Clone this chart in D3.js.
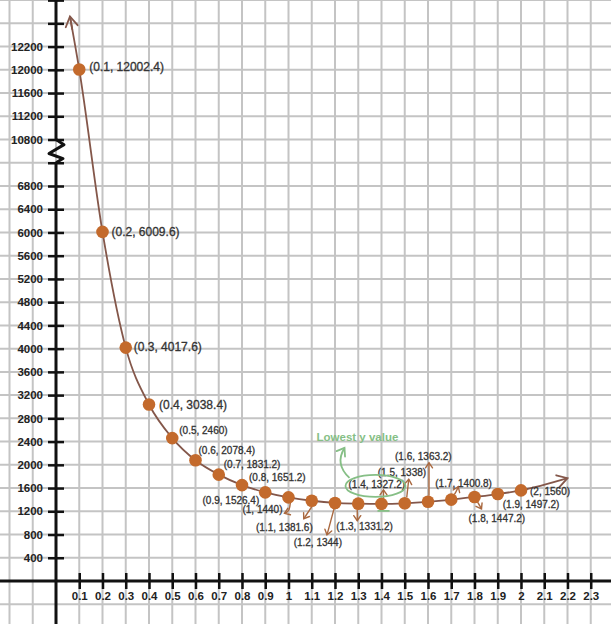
<!DOCTYPE html>
<html>
<head>
<meta charset="utf-8">
<script src="https://cdn.jsdelivr.net/npm/d3@7"></script>
<style>
  html, body { margin: 0; padding: 0; background: #fff; }
  svg { display: block; font-family: "Liberation Sans", Arial, sans-serif; }
</style>
</head>
<body>
<svg id="chart" width="611" height="624"></svg>
<script>
// ---------- data ----------
const xValues = [0.1, 0.2, 0.3, 0.4, 0.5, 0.6, 0.7, 0.8, 0.9, 1, 1.1, 1.2, 1.3, 1.4, 1.5, 1.6, 1.7, 1.8, 1.9, 2];
const yValues = [12002.4, 6009.6, 4017.6, 3038.4, 2460, 2078.4, 1831.2, 1651.2, 1526.4, 1440, 1381.6, 1344, 1331.2, 1327.2, 1338, 1363.2, 1400.8, 1447.2, 1497.2, 1560];
const curveStartTip = [0.06, 12460];
const curveEndTip = [2.2, 1770];
const xTickValues = [0.1, 0.2, 0.3, 0.4, 0.5, 0.6, 0.7, 0.8, 0.9, 1, 1.1, 1.2, 1.3, 1.4, 1.5, 1.6, 1.7, 1.8, 1.9, 2, 2.1, 2.2, 2.3];
const xTickLabels = ["0.1", "0.2", "0.3", "0.4", "0.5", "0.6", "0.7", "0.8", "0.9", "1", "1.1", "1.2", "1.3", "1.4", "1.5", "1.6", "1.7", "1.8", "1.9", "2", "2.1", "2.2", "2.3"];
const yTickValues = [400, 800, 1200, 1600, 2000, 2400, 2800, 3200, 3600, 4000, 4400, 4800, 5200, 5600, 6000, 6400, 6800, 8800, 10800, 11200, 11600, 12000, 12200, 12400, 12600];
const yTickLabels = ["400", "800", "1200", "1600", "2000", "2400", "2800", "3200", "3600", "4000", "4400", "4800", "5200", "5600", "6000", "6400", "6800", "", "10800", "11200", "11600", "12000", "12200", "", ""];
const minIndex = 13;
const noteText = "Lowest y value";

// ---------- layout / styles ----------
const W = 611, H = 624;
const X0 = 56, Y0 = 581;
const STEP = 395 / 17;
const svg = d3.select("#chart");

const x = d3.scaleLinear().domain([0, 2.3]).range([X0, X0 + 23 * 23.25]);
const y = d3.scaleLinear()
  .domain([0, 6800, 10800, 12000, 12200])
  .range([Y0, Y0 - 17 * STEP, Y0 - 19 * STEP, Y0 - 22 * STEP, Y0 - 23 * STEP]);
const gridY = d3.scaleLinear().domain([0, 6800]).range([Y0, Y0 - 17 * STEP]);

const GRID = "#c4c4c4";
const LINE = "#84574a";
const DOT = "#c36a2c";
const LEAD = "#a9683f";
const GREEN = "#86bf86";
const TEXT = "#333";

// grid
const gx = d3.range(-3, 25).map(i => i / 10);
const gy = d3.range(-3, 30).map(i => i * 400);
svg.append("g").selectAll("line").data(gx).join("line")
  .attr("x1", d => x(d)).attr("x2", d => x(d)).attr("y1", 0).attr("y2", H)
  .attr("stroke", GRID).attr("stroke-width", 2);
svg.append("g").selectAll("line").data(gy).join("line")
  .attr("y1", d => gridY(d)).attr("y2", d => gridY(d)).attr("x1", 0).attr("x2", W)
  .attr("stroke", GRID).attr("stroke-width", 2);

// markers
const defs = svg.append("defs");
defs.append("marker").attr("id", "bigArrow")
  .attr("viewBox", "-12 -8 14 16").attr("markerWidth", 14).attr("markerHeight", 16)
  .attr("markerUnits", "userSpaceOnUse").attr("refX", 0).attr("refY", 0).attr("orient", "auto")
  .append("path").attr("d", "M-10,-6 L0,0 L-10,6").attr("fill", "none")
  .attr("stroke", LINE).attr("stroke-width", 1.8).attr("stroke-linecap", "round");
defs.append("marker").attr("id", "smallArrow")
  .attr("viewBox", "-7 -5 9 10").attr("markerWidth", 9).attr("markerHeight", 10)
  .attr("markerUnits", "userSpaceOnUse").attr("refX", 0).attr("refY", 0).attr("orient", "auto")
  .append("path").attr("d", "M-5,-3.5 L0,0 L-5,3.5").attr("fill", "none")
  .attr("stroke", LEAD).attr("stroke-width", 1.4).attr("stroke-linecap", "round");
defs.append("marker").attr("id", "greenArrow")
  .attr("viewBox", "-9 -7 11 14").attr("markerWidth", 11).attr("markerHeight", 14)
  .attr("markerUnits", "userSpaceOnUse").attr("refX", 0).attr("refY", 0).attr("orient", "auto")
  .append("path").attr("d", "M-7,-5 L0,0 L-7,5").attr("fill", "none")
  .attr("stroke", GREEN).attr("stroke-width", 1.8).attr("stroke-linecap", "round");

// axes
const xAxis = svg.append("g").attr("transform", `translate(0,${Y0})`)
  .call(d3.axisBottom(x).tickValues(xTickValues).tickFormat((d, i) => xTickLabels[i]).tickSize(8).tickPadding(3));
xAxis.select(".domain").remove();
xAxis.selectAll(".tick line").attr("y1", -8).attr("y2", 8).attr("stroke", "#111").attr("stroke-width", 2.5);
xAxis.selectAll(".tick text").attr("font-size", 11.5).attr("font-weight", 700).attr("fill", "#222")
  .attr("font-family", "Liberation Sans, Arial, sans-serif");

const yAxis = svg.append("g").attr("transform", `translate(${X0},0)`)
  .call(d3.axisLeft(y).tickValues(yTickValues).tickFormat((d, i) => yTickLabels[i]).tickSize(8).tickPadding(5));
yAxis.select(".domain").remove();
yAxis.selectAll(".tick line").attr("x1", -8).attr("x2", 8).attr("stroke", "#111").attr("stroke-width", 2.5);
yAxis.selectAll(".tick text").attr("font-size", 11.5).attr("font-weight", 700).attr("fill", "#222")
  .attr("font-family", "Liberation Sans, Arial, sans-serif");

// axis lines
const axisG = svg.append("g").attr("stroke", "#111").attr("stroke-width", 3).attr("fill", "none");
axisG.append("line").attr("x1", 0).attr("x2", W).attr("y1", Y0).attr("y2", Y0);
const breakTop = y(10800), breakBottom = y(8800);
axisG.append("line").attr("x1", X0).attr("x2", X0).attr("y1", 0).attr("y2", breakTop);
axisG.append("line").attr("x1", X0).attr("x2", X0).attr("y1", breakBottom).attr("y2", H);
const bh = breakBottom - breakTop;
axisG.append("path").attr("stroke-linejoin", "round")
  .attr("d", `M${X0},${breakTop} L${X0 + 8},${breakTop + bh * 0.22} L${X0 - 7},${breakTop + bh * 0.6} L${X0 + 7},${breakTop + bh * 0.82} L${X0},${breakBottom}`);

// curve
const pts = xValues.map((d, i) => [x(d), y(yValues[i])]);
const curvePts = [[x(curveStartTip[0]), y(curveStartTip[1])], ...pts, [x(curveEndTip[0]), y(curveEndTip[1])]];
svg.append("path")
  .attr("d", d3.line().curve(d3.curveMonotoneX)(curvePts))
  .attr("fill", "none").attr("stroke", LINE).attr("stroke-width", 1.8)
  .attr("marker-end", "url(#bigArrow)");
{
  const a = curvePts[1], b = curvePts[0];
  const t = 0.25;
  svg.append("line")
    .attr("x1", b[0] + (a[0] - b[0]) * t).attr("y1", b[1] + (a[1] - b[1]) * t)
    .attr("x2", b[0]).attr("y2", b[1])
    .attr("stroke", LINE).attr("stroke-width", 1.8).attr("marker-end", "url(#bigArrow)");
}

// leader arrows (label pointers), relative to point
const leaders = {
  9: [[2, 4], [1, 14], [-4, 16]],
  10: [[0, 6], [-8, 18]],
  11: [[-1, 6], [-8, 32]],
  12: [[-1, 6], [-1, 17]],
  13: [[2, -6], [2, -14]],
  14: [[2, -6], [4, -24]],
  15: [[1, -6], [1, -39]],
  16: [[3, -5], [5, -8], [7, -13]],
  17: [[3, 5], [7, 12]]
};
Object.entries(leaders).forEach(([i, seg]) => {
  const p = pts[+i];
  svg.append("path")
    .attr("d", d3.line().curve(d3.curveBasis)(seg.map(s => [p[0] + s[0], p[1] + s[1]])))
    .attr("fill", "none").attr("stroke", LEAD).attr("stroke-width", 1.4)
    .attr("marker-end", "url(#smallArrow)");
});

// points
svg.append("g").selectAll("circle").data(pts).join("circle")
  .attr("cx", d => d[0]).attr("cy", d => d[1]).attr("r", 6.3)
  .attr("fill", DOT);

// labels
const labelPos = [
  [10, -3, "start"], [9, 0, "start"], [8, -1, "start"], [10, 0, "start"],
  [7, -8, "start"], [3, -10, "start"], [5, -10, "start"], [7, -8, "start"],
  [-6, 8, "end"], [-6, 12, "end"], [1, 27, "end"], [7, 40, "end"],
  [-22, 23, "start"], [-33, -19, "start"], [-27, -31, "start"], [-33, -45, "start"],
  [-16, -16, "start"], [-6, 22, "start"], [5, 10, "start"], [9, 1, "start"]
];
svg.append("g").selectAll("text").data(pts).join("text")
  .attr("x", (d, i) => d[0] + labelPos[i][0])
  .attr("y", (d, i) => d[1] + labelPos[i][1])
  .attr("text-anchor", (d, i) => labelPos[i][2])
  .attr("dominant-baseline", "central")
  .attr("font-size", (d, i) => i < 4 ? 12 : 10)
  .attr("fill", TEXT)
  .attr("stroke", TEXT).attr("stroke-width", 0.3)
  .text((d, i) => `(${xValues[i]}, ${yValues[i]})`);

// lowest-value annotation
{
  const p = pts[minIndex];
  const g = svg.append("g").attr("fill", "none").attr("stroke", GREEN).attr("stroke-width", 1.8);
  g.append("ellipse").attr("cx", p[0] - 6).attr("cy", p[1] - 18).attr("rx", 30).attr("ry", 11);
  g.append("path").attr("d", `M${p[0] - 32},${p[1] - 26} Q${p[0] - 47},${p[1] - 40} ${p[0] - 37},${p[1] - 56}`)
    .attr("marker-end", "url(#greenArrow)");
  g.append("line").attr("x1", p[0] - 4).attr("x2", p[0] + 8).attr("y1", p[1] + 7).attr("y2", p[1] + 7);
  svg.append("text").attr("x", p[0] - 65).attr("y", p[1] - 67)
    .attr("dominant-baseline", "central").attr("font-size", 11.5).attr("font-weight", 700)
    .attr("fill", GREEN).text(noteText);
}
</script>
</body>
</html>
